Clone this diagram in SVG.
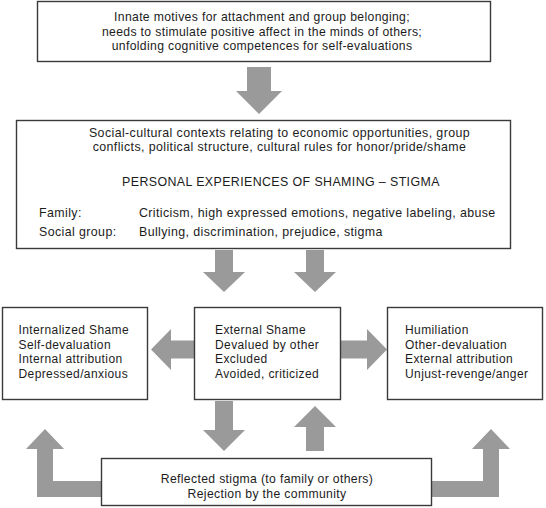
<svg xmlns="http://www.w3.org/2000/svg" width="546" height="508" viewBox="0 0 546 508">
<style>
.box{fill:#fff;stroke:#3a3a3a;stroke-width:1.4}
.t{font-family:"Liberation Sans",Arial,sans-serif;font-size:12.2px;fill:#1c1c1c;letter-spacing:0.35px}
.m{font-size:12.4px;letter-spacing:0.4px}
.r{font-size:12px;letter-spacing:0.4px}
.c{text-anchor:middle}
.arr{fill:#9a9a9a}
</style>
<rect width="546" height="508" fill="#fff"/>
<g id="connectors">
<polygon class="arr" points="247,67 271,67 271,91 282,91 259,114 236,91 247,91"/>
<polygon class="arr" points="215,250 233,250 233,272 245,272 224,292 203,272 215,272"/>
<polygon class="arr" points="306,250 324,250 324,272 336,272 315,292 294,272 306,272"/>
<polygon class="arr" points="194,340.5 171,340.5 171,329 151,349.5 171,370 171,358.5 194,358.5"/>
<polygon class="arr" points="341,340.5 367,340.5 367,329 387,349.5 367,370 367,358.5 341,358.5"/>
<polygon class="arr" points="215,401 233,401 233,430 245,430 224,451 203,430 215,430"/>
<polygon class="arr" points="306,451 324,451 324,427 336,427 315,406 294,427 306,427"/>
<polygon class="arr" points="101,481 53,481 53,449 64,449 45,429 26,449 37,449 37,497 101,497"/>
<polygon class="arr" points="432,481 483,481 483,449 472,449 491,429 510,449 499,449 499,497 432,497"/>
</g>
<g id="node-innate">
<rect class="box" x="37.5" y="1.5" width="453" height="60"/>
<text class="t c" x="262" y="21">Innate motives for attachment and group belonging;</text>
<text class="t c" x="262" y="35.5">needs to stimulate positive affect in the minds of others;</text>
<text class="t c" x="262" y="50">unfolding cognitive competences for self-evaluations</text>
</g>
<g id="node-context">
<rect class="box" x="16.5" y="120.5" width="494" height="128"/>
<text class="t m c" x="279.5" y="137">Social-cultural contexts relating to economic opportunities, group</text>
<text class="t m c" x="279.5" y="151">conflicts, political structure, cultural rules for honor/pride/shame</text>
<text class="t m c" x="281" y="186">PERSONAL EXPERIENCES OF SHAMING – STIGMA</text>
<text class="t m" x="39" y="217">Family:</text>
<text class="t m" x="139" y="217">Criticism, high expressed emotions, negative labeling, abuse</text>
<text class="t m" x="39" y="236">Social group:</text>
<text class="t m" x="139" y="236">Bullying, discrimination, prejudice, stigma</text>
</g>
<g id="node-internal">
<rect class="box" x="2.5" y="307.5" width="145" height="92"/>
<text class="t r" x="18.5" y="334">Internalized Shame</text>
<text class="t r" x="18.5" y="348.5">Self-devaluation</text>
<text class="t r" x="18.5" y="363">Internal attribution</text>
<text class="t r" x="18.5" y="377.5">Depressed/anxious</text>
</g>
<g id="node-external">
<rect class="box" x="194.5" y="307.5" width="146" height="92"/>
<text class="t r" x="215" y="334">External Shame</text>
<text class="t r" x="215" y="348.5">Devalued by other</text>
<text class="t r" x="215" y="363">Excluded</text>
<text class="t r" x="215" y="377.5">Avoided, criticized</text>
</g>
<g id="node-humiliation">
<rect class="box" x="387.5" y="307.5" width="155" height="92"/>
<text class="t r" x="405" y="334">Humiliation</text>
<text class="t r" x="405" y="348.5">Other-devaluation</text>
<text class="t r" x="405" y="363">External attribution</text>
<text class="t r" x="405" y="377.5">Unjust-revenge/anger</text>
</g>
<g id="node-reflected">
<rect class="box" x="101.5" y="458.5" width="330" height="47"/>
<text class="t c" x="267" y="482.5">Reflected stigma (to family or others)</text>
<text class="t c" x="267" y="497.5">Rejection by the community</text>
</g>
</svg>
